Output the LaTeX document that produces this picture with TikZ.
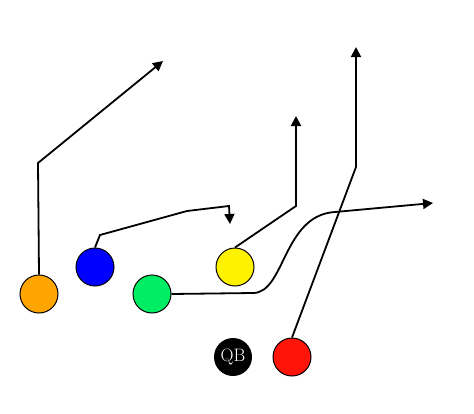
\documentclass[tikz,border=0pt]{standalone}
\usepackage{fontspec}
\usetikzlibrary{arrows.meta}
\definecolor{wrorange}{RGB}{255,165,0}
\definecolor{wrgreen}{RGB}{0,238,100}
\definecolor{rbred}{RGB}{255,20,10}
\begin{document}
\begin{tikzpicture}[x=1pt,y=-1pt,
    player/.style={circle,draw=black,line width=1pt,minimum size=38pt,inner sep=0pt},
    route/.style={line width=1.8pt,-{Triangle[length=10pt,width=10pt]}}]
    \useasboundingbox (0,0) rectangle (474,413);

    \node[player,fill=wrorange] (or) at (39,294) {};
    \node[player,fill=blue] (bl) at (95,267) {};
    \node[player,fill=wrgreen] (gr) at (152,294) {};
    \node[player,fill=yellow] (ye) at (235,267) {};
    \node[player,fill=black,draw=none,text=white,font=\fontsize{18}{18}\selectfont] (qb) at (233,357) {QB};
    \node[player,fill=rbred] (rd) at (292,357) {};

    \coordinate (orcut) at (38,163);
    \coordinate (orend) at (163,61);
    \coordinate (blend) at (230,224);
    \coordinate (yeend) at (296,116);
    \coordinate (grend) at (433,203);
    \coordinate (rdend) at (356,47);

    \draw[route] (or.north) -- (orcut) -- (orend);
    \draw[route] (bl.north) -- (100,235) -- (187,211) -- (229,206) -- (blend);
    \draw[route] (ye.north) -- (296,206) -- (yeend);
    \draw[route] (gr.east) -- (253,293)
        .. controls (285,293) and (283,215) .. (335,212)
        -- (grend);
    \draw[route] (rd.north) -- (356,167) -- (rdend);
\end{tikzpicture}
\end{document}
